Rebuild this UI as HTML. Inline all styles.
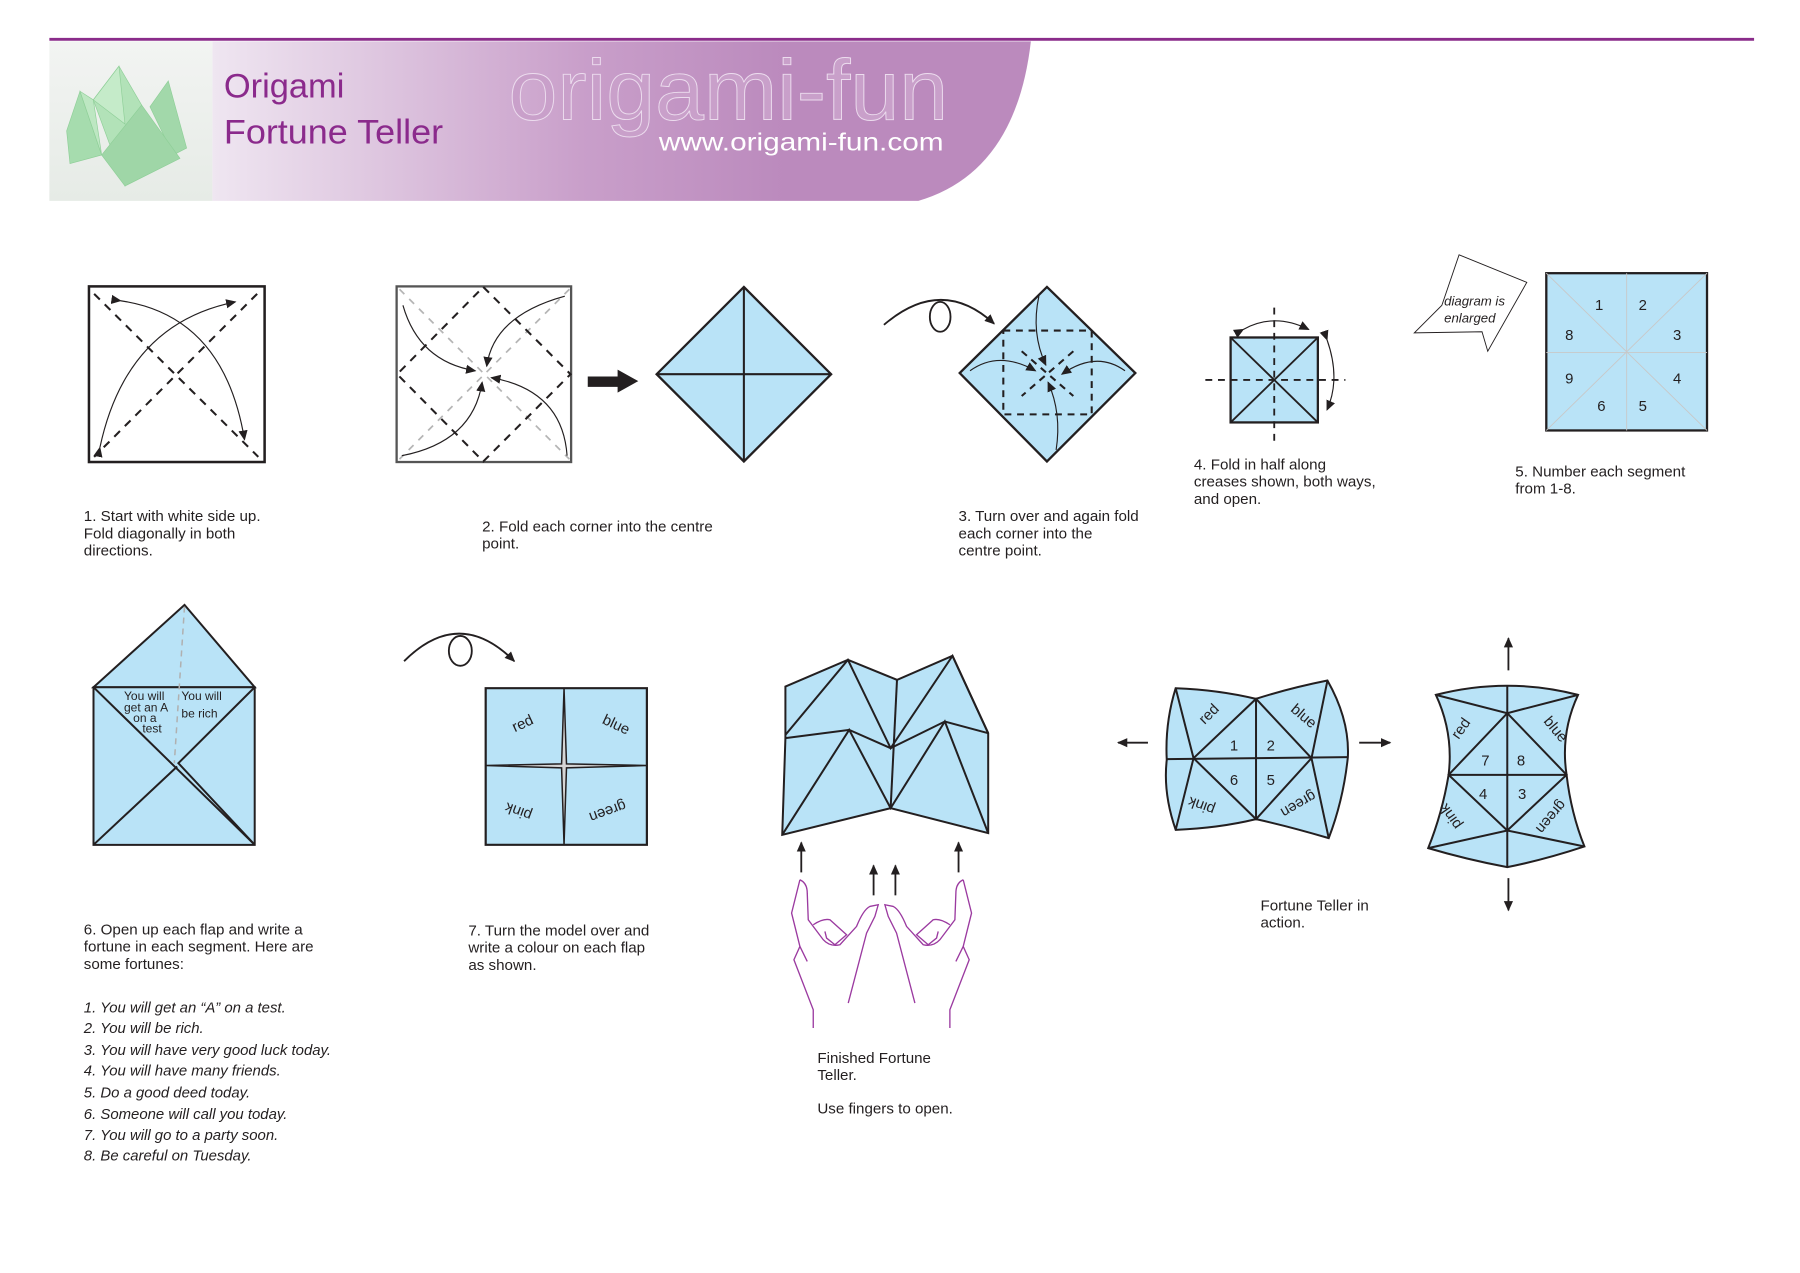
<!DOCTYPE html>
<html><head><meta charset="utf-8"><style>
html,body{margin:0;padding:0;background:#fff;}
svg{display:block;}
text{font-family:"Liberation Sans",sans-serif;}
</style></head><body>
<svg width="1800" height="1273" viewBox="0 0 1568 1109" preserveAspectRatio="none" xmlns="http://www.w3.org/2000/svg">
<defs>
<linearGradient id="hg" x1="0" x2="1" y1="0" y2="0">
<stop offset="0" stop-color="#efe6f1"/><stop offset="0.45" stop-color="#c99fca"/><stop offset="0.7" stop-color="#bb8abd"/><stop offset="1" stop-color="#bb8abd"/>
</linearGradient>
<linearGradient id="pg" x1="0" x2="0" y1="0" y2="1"><stop offset="0" stop-color="#f2f4f2"/><stop offset="1" stop-color="#e6ebe6"/></linearGradient>
<clipPath id="pc"><rect x="43" y="36" width="142" height="139"/></clipPath>
<marker id="ah" markerWidth="10" markerHeight="10" refX="8" refY="5" orient="auto" markerUnits="userSpaceOnUse"><path d="M0,1 L9,5 L0,9 Z" fill="#231f20"/></marker>
</defs>
<!-- header -->
<rect x="43" y="33" width="1485" height="2.5" fill="#8a2c8a"/>
<path d="M185,36 L898,36 Q885,150 800,175 L185,175 Z" fill="url(#hg)"/>
<rect x="43" y="36" width="142" height="139" fill="url(#pg)"/>
<g clip-path="url(#pc)">
<g transform="translate(34.84,30) scale(0.2903,0.3)" stroke="#8fcf98" stroke-width="2">
<polygon points="120,165 185,350 90,375 80,280" fill="#a6dcae"/>
<polygon points="237,92 305,205 255,440 160,190" fill="#b2e2b8"/>
<polygon points="385,135 440,330 400,350 330,210" fill="#a2d8aa"/>
<polygon points="237,92 255,260 160,190" fill="#c5ebc9"/>
<polygon points="305,205 420,360 255,440 185,350" fill="#9fd6a7"/>
<polygon points="120,165 185,350 160,190" fill="#bde7c2"/>
</g>
</g>
<text x="195" y="85" font-size="30" fill="#8b2a8c">Origami</text>
<text x="195" y="125" font-size="30" fill="#8b2a8c" textLength="191" lengthAdjust="spacingAndGlyphs">Fortune Teller</text>
<text x="443" y="104" font-size="74" fill="#c9a0ca" stroke="#ecdcee" stroke-width="0.8" textLength="383" lengthAdjust="spacingAndGlyphs">origami-fun</text>
<text x="574" y="131" font-size="22" fill="#ffffff" textLength="248" lengthAdjust="spacingAndGlyphs">www.origami-fun.com</text>

<g stroke="#231f20" fill="none" stroke-linecap="butt">
<rect x="77.5" y="249.5" width="153" height="153" stroke-width="2.2"/>
<line x1="82" y1="256" x2="225" y2="398" stroke-width="1.8" stroke-dasharray="7,6"/>
<line x1="224" y1="256" x2="82" y2="398" stroke-width="1.8" stroke-dasharray="7,6"/>
<path d="M87,390 Q110,282 205,263" stroke-width="1" marker-end="url(#ah)" marker-start="url(#ah)"/>
<path d="M105,262 Q195,275 213,383" stroke-width="1" marker-end="url(#ah)" marker-start="url(#ah)"/>
<rect x="345.5" y="249.5" width="152" height="153" stroke-width="2" stroke="#555"/>
<line x1="348" y1="252" x2="496" y2="400" stroke="#b5b5b5" stroke-width="1.5" stroke-dasharray="6,6"/>
<line x1="496" y1="252" x2="348" y2="400" stroke="#b5b5b5" stroke-width="1.5" stroke-dasharray="6,6"/>
<polygon points="421,250 497,326 421,402 346,326" stroke-width="1.8" stroke-dasharray="7,6"/>
<path d="M351,266 Q365,315 414,323" stroke-width="1" marker-end="url(#ah)"/>
<path d="M492,258 Q430,275 424,319" stroke-width="1" marker-end="url(#ah)"/>
<path d="M350,397 Q412,385 420,333" stroke-width="1" marker-end="url(#ah)"/>
<path d="M494,397 Q490,340 428,329" stroke-width="1" marker-end="url(#ah)"/>
<polygon points="512,328 538,328 538,322 556,332 538,342 538,337 512,337" fill="#231f20" stroke="none"/>
<polygon points="648,250 724,326 648,402 572,326" fill="#b9e3f7" stroke-width="2"/>
<line x1="648" y1="250" x2="648" y2="402" stroke-width="1.8"/>
<line x1="572" y1="326" x2="724" y2="326" stroke-width="1.8"/>
<path d="M770,283 Q820,240 866,282" stroke-width="1.6" marker-end="url(#ah)"/>
<ellipse cx="819" cy="276" rx="9" ry="13" stroke-width="1.6"/>
<polygon points="912,250 989,325 912,402 836,325" fill="#b9e3f7" stroke-width="2"/>
<rect x="874" y="288" width="77" height="73" stroke-width="1.8" stroke-dasharray="6,5"/>
<line x1="890" y1="306" x2="935" y2="345" stroke-width="1.8" stroke-dasharray="6,5"/>
<line x1="935" y1="306" x2="890" y2="345" stroke-width="1.8" stroke-dasharray="6,5"/>
<path d="M905,258 Q898,290 911,318" stroke-width="1" marker-end="url(#ah)"/>
<path d="M845,323 Q870,305 902,323" stroke-width="1" marker-end="url(#ah)"/>
<path d="M980,323 Q955,305 925,326" stroke-width="1" marker-end="url(#ah)"/>
<path d="M920,392 Q925,360 913,333" stroke-width="1" marker-end="url(#ah)"/>
<rect x="1072" y="294" width="76" height="74" fill="#b9e3f7" stroke-width="2"/>
<line x1="1072" y1="294" x2="1148" y2="368" stroke-width="1.6"/>
<line x1="1148" y1="294" x2="1072" y2="368" stroke-width="1.6"/>
<line x1="1110" y1="268" x2="1110" y2="385" stroke-width="1.6" stroke-dasharray="6,5"/>
<line x1="1050" y1="331" x2="1172" y2="331" stroke-width="1.6" stroke-dasharray="6,5"/>
<path d="M1083,287 Q1110,272 1140,287" stroke-width="1" marker-end="url(#ah)" marker-start="url(#ah)"/>
<path d="M1156,296 Q1168,330 1156,357" stroke-width="1" marker-end="url(#ah)" marker-start="url(#ah)"/>
<polygon points="1271,222 1330,246 1296,306 1291,289 1232,290 1256,266" fill="#fff" stroke-width="0.8"/>
<rect x="1347" y="238" width="140" height="137" fill="#b9e3f7" stroke-width="2"/>
<g stroke="#c8c8c8" stroke-width="0.8"><line x1="1347" y1="238" x2="1487" y2="375"/><line x1="1487" y1="238" x2="1347" y2="375"/><line x1="1417" y1="238" x2="1417" y2="375"/><line x1="1347" y1="307" x2="1487" y2="307"/></g>
</g>
<text x="1258" y="266" font-size="11.5" font-style="italic" fill="#231f20">diagram is</text>
<text x="1258" y="281" font-size="11.5" font-style="italic" fill="#231f20">enlarged</text>
<g font-size="13" fill="#231f20" text-anchor="middle">
<text x="1393" y="270">1</text><text x="1431" y="270">2</text><text x="1367" y="296">8</text><text x="1461" y="296">3</text>
<text x="1367" y="334">9</text><text x="1461" y="334">4</text><text x="1395" y="358">6</text><text x="1431" y="358">5</text>
</g>

<g transform="translate(52.3,513.9) scale(0.3555,0.2903)" stroke="#231f20" fill="none">
<polygon points="305,45 477,292 82,292" fill="#b9e3f7" stroke-width="2" vector-effect="non-scaling-stroke"/>
<rect x="82" y="292" width="395" height="473" fill="#b9e3f7" stroke-width="2" vector-effect="non-scaling-stroke"/>
<line x1="305" y1="50" x2="280" y2="520" stroke="#b0b0b0" stroke-width="1.5" stroke-dasharray="6,5" vector-effect="non-scaling-stroke"/>
<polyline points="82,292 477,765" stroke-width="2" vector-effect="non-scaling-stroke"/>
<polyline points="477,292 290,520 477,765" stroke-width="2" vector-effect="non-scaling-stroke"/>
<line x1="82" y1="765" x2="287" y2="530" stroke-width="2" vector-effect="non-scaling-stroke"/>
<rect x="1043" y="295" width="395" height="470" fill="#b9e3f7" stroke-width="2.2" vector-effect="non-scaling-stroke"/>
<polygon points="1235,295 1241,522 1438,527 1241,534 1235,765 1229,534 1043,527 1229,522" fill="#d5d5d5" stroke-width="1.5" vector-effect="non-scaling-stroke"/>
</g>
<g font-size="10.5" fill="#231f20">
<text x="108" y="610">You will</text><text x="108" y="620">get an A</text><text x="116" y="629">on a</text><text x="124" y="638">test</text>
<text x="158" y="610">You will</text><text x="158" y="625">be rich</text>
</g>
<path d="M352,576 Q400,528 448,576" stroke="#231f20" stroke-width="1.6" fill="none" marker-end="url(#ah)"/>
<ellipse cx="401" cy="567" rx="10" ry="13" stroke="#231f20" stroke-width="1.6" fill="none"/>
<g font-size="13" fill="#231f20" text-anchor="middle">
<text transform="translate(457,634) rotate(-25)">red</text>
<text transform="translate(535,635) rotate(25)">blue</text>
<text transform="translate(453,703) rotate(200)">pink</text>
<text transform="translate(528,703) rotate(160)">green</text>
</g>

<g transform="translate(661.96,540.02) scale(0.5555,0.2903)" stroke="#231f20" stroke-width="2" fill="#b9e3f7">
<polygon vector-effect="non-scaling-stroke" points="40,200 138,120 215,180 302,108 358,340 358,640 205,565 35,645 40,355"/>
<polyline vector-effect="non-scaling-stroke" fill="none" points="40,355 140,330 205,385 290,305 358,340"/>
<polyline vector-effect="non-scaling-stroke" fill="none" points="40,345 138,120 205,385 302,108 358,340"/>
<polyline vector-effect="non-scaling-stroke" fill="none" points="35,645 140,330 205,565 290,305 358,640"/>
<line vector-effect="non-scaling-stroke" x1="215" y1="180" x2="205" y2="565"/>
<path vector-effect="non-scaling-stroke" d="M652,205 Q720,210 778,237 Q830,205 890,182 Q925,300 922,412 Q915,540 892,655 Q830,620 778,598 Q720,625 652,630 Q632,520 638,420 Q635,310 652,205 Z"/>
<g fill="none">
<line vector-effect="non-scaling-stroke" x1="638" y1="418" x2="922" y2="412"/>
<line vector-effect="non-scaling-stroke" x1="778" y1="237" x2="778" y2="598"/>
<polygon vector-effect="non-scaling-stroke" points="680,415 778,237 865,415 778,598"/>
<polyline vector-effect="non-scaling-stroke" points="652,205 680,415 652,630"/>
<polyline vector-effect="non-scaling-stroke" points="890,182 865,415 892,655"/>
</g>
<path vector-effect="non-scaling-stroke" d="M1060,225 Q1172,170 1283,225 Q1255,340 1265,465 Q1272,580 1293,680 Q1230,720 1172,742 Q1110,720 1048,685 Q1070,580 1080,465 Q1088,340 1060,225 Z"/>
<g fill="none">
<polyline vector-effect="non-scaling-stroke" points="1060,225 1172,280 1283,225"/>
<line vector-effect="non-scaling-stroke" x1="1172" y1="197" x2="1172" y2="742"/>
<line vector-effect="non-scaling-stroke" x1="1080" y1="465" x2="1265" y2="465"/>
<polygon vector-effect="non-scaling-stroke" points="1172,280 1265,465 1172,632 1080,465"/>
<polyline vector-effect="non-scaling-stroke" points="1048,685 1172,632 1293,680"/>
</g>
</g>
<g font-size="13" fill="#231f20" text-anchor="middle">
<text transform="translate(1056,625) rotate(-45)">red</text>
<text transform="translate(1133,627) rotate(40)">blue</text>
<text x="1075" y="654">1</text><text x="1107" y="654">2</text><text x="1075" y="684">6</text><text x="1107" y="684">5</text>
<text transform="translate(1048,698) rotate(200)">pink</text>
<text transform="translate(1129,697) rotate(150)">green</text>
<text transform="translate(1276,637) rotate(-55)">red</text>
<text transform="translate(1352,638) rotate(50)">blue</text>
<text x="1294" y="667">7</text><text x="1325" y="667">8</text><text x="1292" y="696">4</text><text x="1326" y="696">3</text>
<text transform="translate(1267,709) rotate(235)">pink</text>
<text transform="translate(1348,709) rotate(130)">green</text>
</g>
<g stroke="#231f20" stroke-width="1.6" marker-end="url(#ah)">
<line x1="1000" y1="647" x2="974" y2="647"/>
<line x1="1184" y1="647" x2="1211" y2="647"/>
<line x1="1314" y1="584" x2="1314" y2="556"/>
<line x1="1314" y1="765" x2="1314" y2="793"/>
<line x1="698" y1="760" x2="698" y2="734"/>
<line x1="761" y1="780" x2="761" y2="754"/>
<line x1="780" y1="780" x2="780" y2="754"/>
<line x1="835" y1="760" x2="835" y2="734"/>
</g>
<g transform="translate(679.4,749) scale(0.2903)" stroke="#9b3aa0" stroke-width="4" fill="none">
<g id="hand">
<path d="M60,60 L35,160 L60,260 L42,300 L100,450 L100,505"/>
<path d="M60,60 Q82,70 82,100 L85,180 L130,240 Q150,262 180,255 L230,200 Q250,150 270,140 L295,135 L285,170 L260,220 L205,430"/>
<path d="M100,195 Q130,175 150,180 L200,225 L165,255 L140,235 L135,215"/>
<path d="M60,260 L82,305"/>
</g>
<use href="#hand" transform="translate(610,0) scale(-1,1)"/>
</g>

<g font-size="13.2" fill="#231f20">
<text x="73" y="454">1. Start with white side up.</text>
<text x="73" y="469">Fold diagonally in both</text>
<text x="73" y="484">directions.</text>
<text x="420" y="463">2. Fold each corner into the centre</text>
<text x="420" y="478">point.</text>
<text x="835" y="454">3. Turn over and again fold</text>
<text x="835" y="469">each corner into the</text>
<text x="835" y="484">centre point.</text>
<text x="1040" y="409">4. Fold in half along</text>
<text x="1040" y="424">creases shown, both ways,</text>
<text x="1040" y="439">and open.</text>
<text x="1320" y="415">5. Number each segment</text>
<text x="1320" y="430">from 1-8.</text>
<text x="73" y="814">6. Open up each flap and write a</text>
<text x="73" y="829">fortune in each segment. Here are</text>
<text x="73" y="844">some fortunes:</text>
<text x="408" y="815">7. Turn the model over and</text>
<text x="408" y="830">write a colour on each flap</text>
<text x="408" y="845">as shown.</text>
<text x="712" y="926">Finished Fortune</text>
<text x="712" y="941">Teller.</text>
<text x="712" y="970">Use fingers to open.</text>
<text x="1098" y="793">Fortune Teller in</text>
<text x="1098" y="808">action.</text>
</g>
<g font-size="13" fill="#231f20" font-style="italic">
<text x="73" y="882">1. You will get an “A” on a test.</text>
<text x="73" y="900">2. You will be rich.</text>
<text x="73" y="919">3. You will have very good luck today.</text>
<text x="73" y="937">4. You will have many friends.</text>
<text x="73" y="956">5. Do a good deed today.</text>
<text x="73" y="975">6. Someone will call you today.</text>
<text x="73" y="993">7. You will go to a party soon.</text>
<text x="73" y="1011">8. Be careful on Tuesday.</text>
</g>
</svg>
</body></html>
